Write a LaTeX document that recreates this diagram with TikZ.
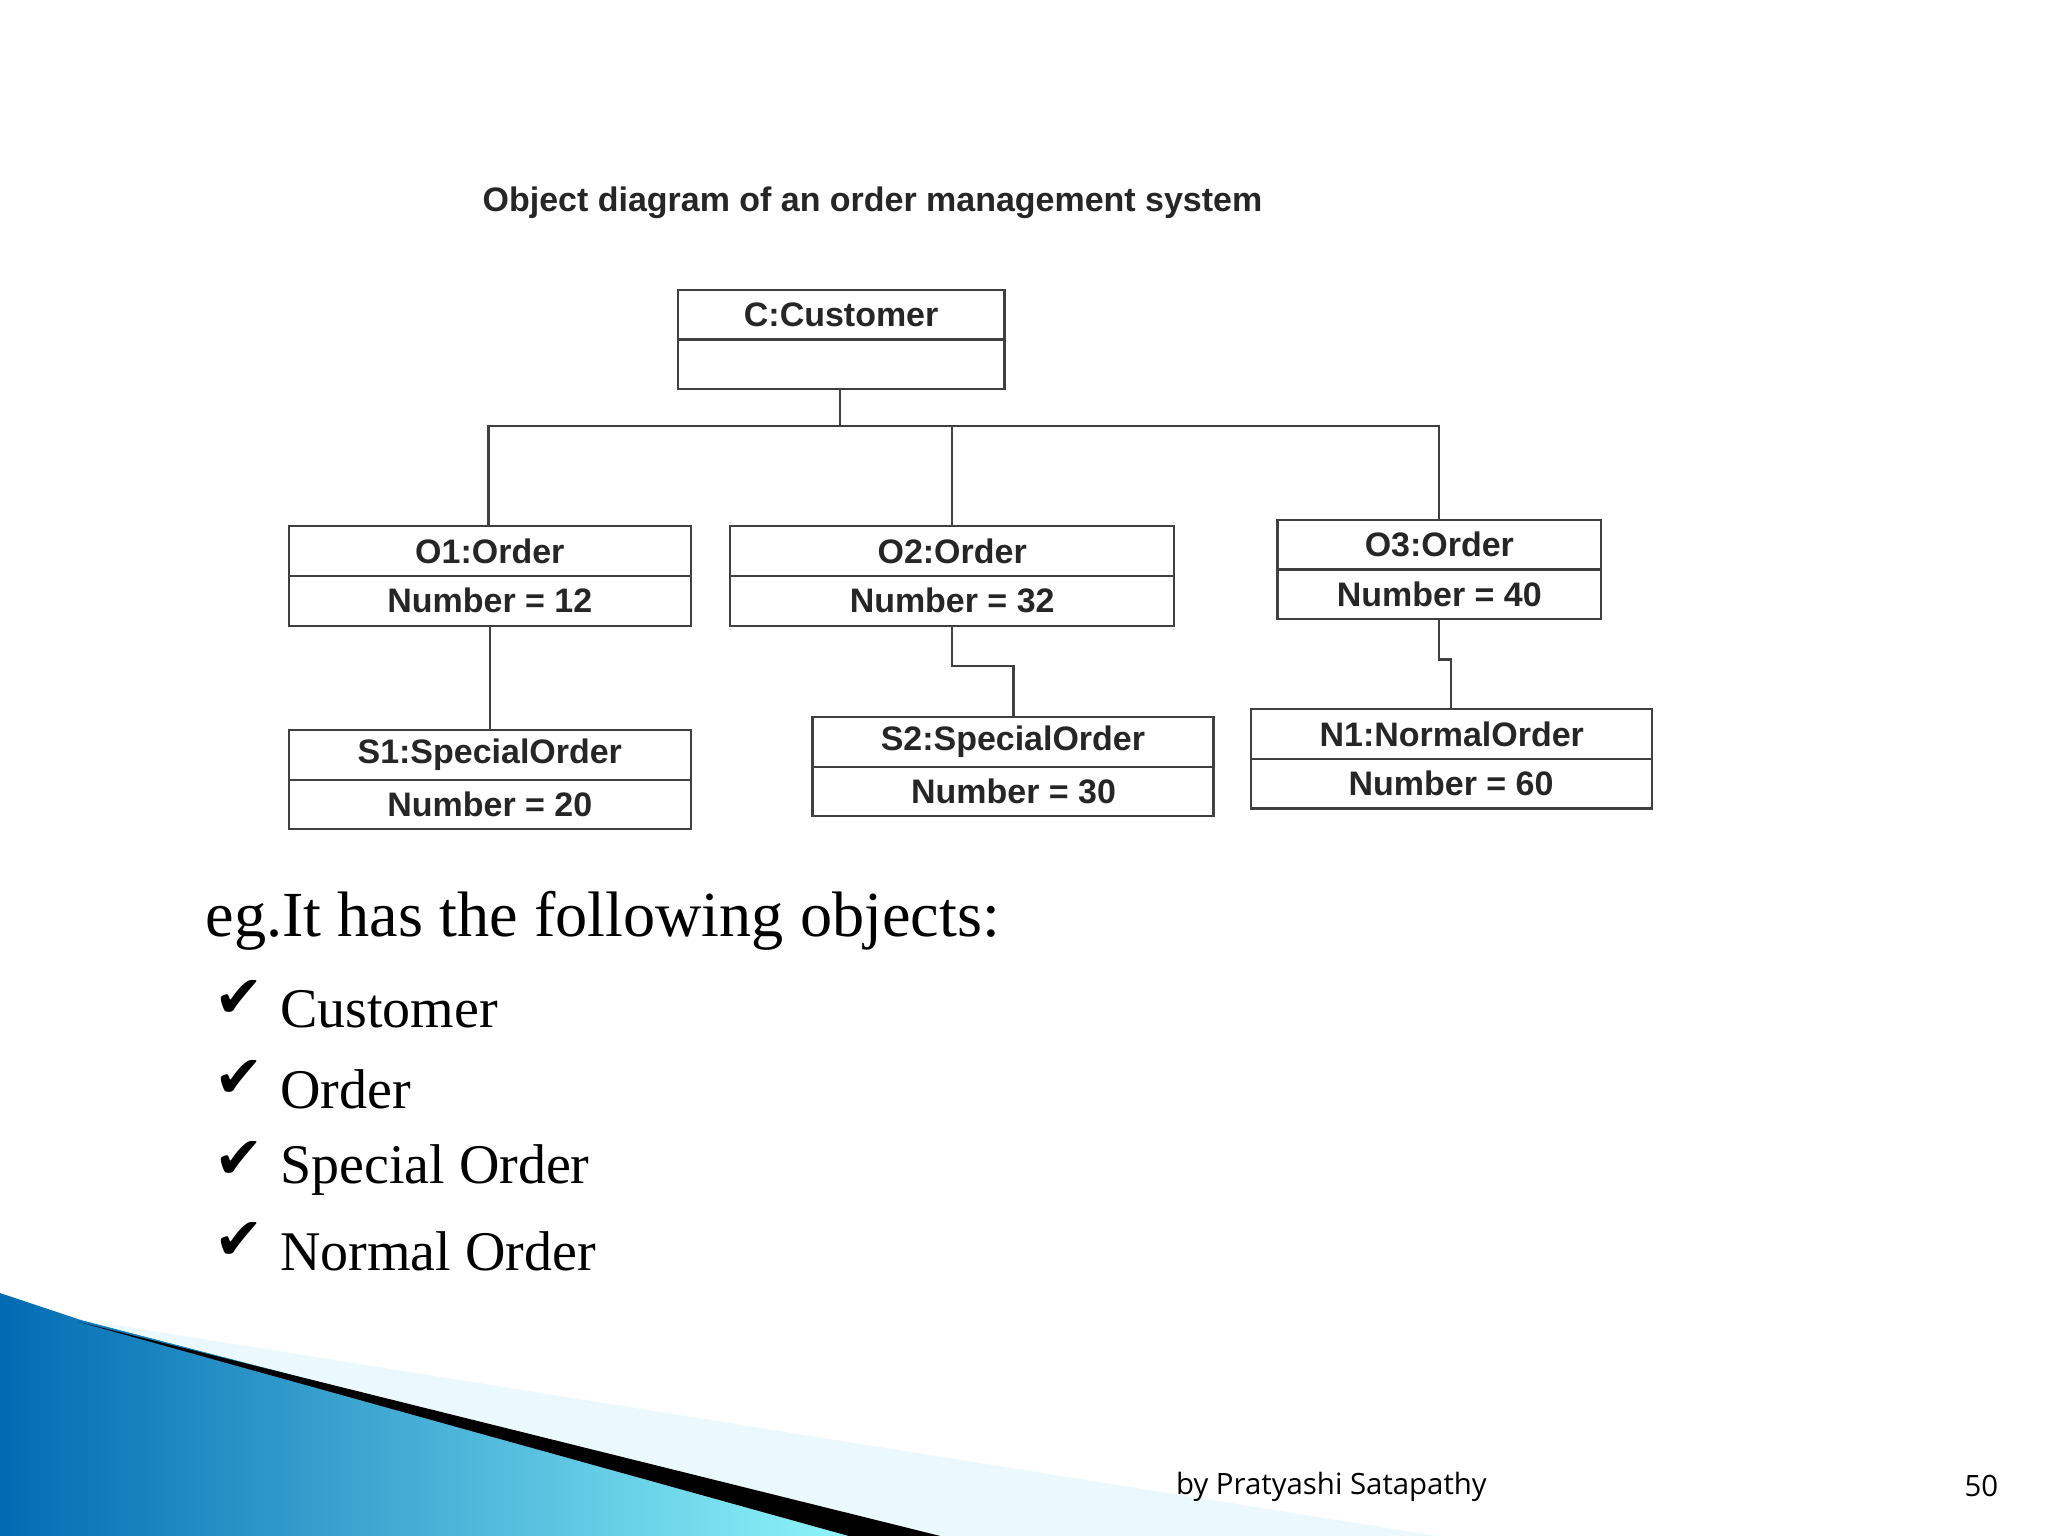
\documentclass[tikz,border=0pt]{standalone}
\usepackage{fontspec}
\setmainfont{Liberation Serif}
\setsansfont{Liberation Sans}
\newfontfamily\djv{DejaVu Sans}
\newfontfamily\foot{Open Sans}
\begin{document}
\begin{tikzpicture}[x=0.05cm,y=-0.05cm,
  boxtxt/.style={font=\sffamily\bfseries\fontsize{37}{40}\selectfont,text=black!85},
  ln/.style={line width=2.4pt,draw=black!75},
  big/.style={font=\fontsize{61}{66}\selectfont,anchor=west}]
\useasboundingbox (0,0) rectangle (1568,1176);
\fill[white] (0,0) rectangle (1568,1176);
% decoration
\shade[left color=cyan!60!blue!70!black, right color=cyan!40] (0,990) -- (60,1010) -- (700,1176) -- (0,1176) -- cycle;
\fill[cyan!8] (60,1010) -- (1100,1176) -- (700,1176) -- cycle;
\fill[black] (60,1012) -- (720,1176) -- (650,1176) -- cycle;
% title
\node[font=\sffamily\bfseries\fontsize{37}{40}\selectfont,text=black!85] (title) at (668,155) {Object diagram of an order management system};
% boxes
\newcommand{\objbox}[7]{%
  \draw[ln] (#2,#4) rectangle (#3,#6);
  \draw[ln] (#2,#5) -- (#3,#5);
  \node[boxtxt] (#1) at ({(#2+#3)/2},{(#4+#5)/2}) {#7};
  \coordinate (#1t) at ({(#2+#3)/2},#4);
  \coordinate (#1b) at ({(#2+#3)/2},#6);}
\objbox{c}{519}{769}{222}{260}{298}{C:Customer}
\objbox{o1}{221}{529}{403}{441}{479}{O1:Order}
\node[boxtxt] (o1n) at (375,460) {Number = 12};
\objbox{o2}{559}{899}{403}{441}{479}{O2:Order}
\node[boxtxt] (o2n) at (729,460) {Number = 32};
\objbox{o3}{978}{1226}{398}{436}{474}{O3:Order}
\node[boxtxt] (o3n) at (1102,455) {Number = 40};
\objbox{s1}{221}{529}{559}{597}{635}{S1:SpecialOrder}
\node[boxtxt] (s1n) at (375,616) {Number = 20};
\objbox{s2}{622}{929}{549}{587}{625}{S2:SpecialOrder}
\node[boxtxt] (s2n) at (776,606) {Number = 30};
\objbox{n1}{958}{1265}{543}{581}{619}{N1:NormalOrder}
\node[boxtxt] (n1n) at (1111,600) {Number = 60};
% connectors
\coordinate (bus) at (643,326);
\draw[ln] (643,298) -- (bus);
\draw[ln] (374,403) -- (374,326) -- (1102,326) -- (1102,398);
\draw[ln] (729,326) -- (729,403);
\draw[ln] (375,479) -- (375,559);
\draw[ln] (729,479) -- (729,510) -- (776,510) -- (776,549);
\draw[ln] (1102,474) -- (1102,505) -- (1111,505) -- (1111,543);
% text
\node[big,font=\fontsize{70}{76}\selectfont] (eg) at (155,705) {eg.It has the following objects:};
\foreach \t/\y [count=\i] in {Customer/773,Order/834,Special Order/896,Normal Order/958}{
  \node[font=\djv\bfseries\fontsize{64}{70}\selectfont] (ck\i) at (183,\y-8) {✔};
  \node[big] (it\i) at (212,\y) {\t};
}
\node[font=\foot\fontsize{32}{36}\selectfont,anchor=west] (by) at (898,1138) {by Pratyashi Satapathy};
\node[font=\foot\fontsize{32}{36}\selectfont] (pg) at (1517,1138) {50};
\end{tikzpicture}
\end{document}
